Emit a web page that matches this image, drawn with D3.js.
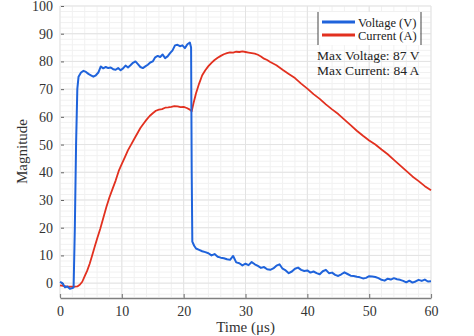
<!DOCTYPE html>
<html><head><meta charset="utf-8">
<script src="https://cdn.jsdelivr.net/npm/d3@7"></script>
<style>body{margin:0;background:#fff}svg{display:block}svg text{font-family:"Liberation Serif","Times New Roman",serif !important}</style>
</head><body><svg id="c" width="474" height="336"></svg>
<script>
const voltageT = [0,0.4,0.8,1.2,1.6,2.0,2.2,2.4,2.6,2.8,3.0,3.4,3.8,4.2,4.6,5.0,5.4,5.8,6.2,6.6,7.0,7.4,7.8,8.2,8.6,9.0,9.4,9.8,10.2,10.6,11.0,11.4,11.8,12.2,12.6,13.0,13.4,13.8,14.2,14.6,15.0,15.4,15.8,16.2,16.6,17.0,17.4,17.8,18.2,18.6,19.0,19.4,19.8,20.2,20.6,21.0,21.2,21.3,21.4,21.7,22.0,22.5,23.0,23.5,24.0,24.5,25.0,25.5,26.0,26.5,27.0,27.5,28,28.5,29,29.5,30,30.5,31,31.5,32,32.5,33,33.5,34,34.5,35,35.5,36,36.5,37,37.5,38,38.5,39,39.5,40,40.5,41,41.5,42,42.5,43,43.5,44,44.5,45,45.5,46,46.5,47,47.5,48,48.5,49,49.5,50,50.5,51,51.5,52,52.5,53,53.5,54,54.5,55,55.5,56,56.5,57,57.5,58,58.5,59,59.5,60];
const voltageV = [0.5,0,-1.5,-1.2,-2,-1.8,-1.5,20,50,70,74.5,76,76.6,76.2,75.5,75,74.5,75,76,78.2,77.5,78,77.6,77.8,77.2,77,77.6,76.8,77.5,78.5,77.8,78.6,79.5,80,79,78,77.6,78.2,78.8,79.6,80,81.5,82,81.6,82.5,81.2,81.8,83,84,85.8,86,85.5,85.8,84.8,86.2,86.8,85,40,15,13.5,12.5,12,11.5,11.2,10.8,10,10.5,9.5,9.2,9,8.6,8.4,9.8,7.5,7.2,6.4,7,6.5,7.6,6.8,6.2,5.5,5.8,5,4.8,5.3,6.3,6.8,5.2,4.6,3.6,4.2,5.2,5.6,4.8,4.4,4.6,3.8,4.2,3.6,3.2,4.3,4.8,3.6,3.8,3,2.6,3.2,3.9,3.3,2.7,2.6,2.3,2.1,1.7,1.9,2.5,2.4,2.2,1.8,1.2,0.9,1.6,1.3,1.8,1.4,1.2,0.8,0.3,0.9,0.2,0.6,1.2,0.8,1.3,0.6,0.7];
const currentT = [0,1,2,2.8,3.2,3.6,4.0,4.4,4.8,5.2,5.6,6.0,6.5,7.0,7.5,8,8.5,9,9.5,10,10.5,11,11.5,12,12.5,13,13.5,14,14.5,15,15.5,16,16.5,17,17.5,18,18.5,19,19.5,20,20.5,21,21.3,21.6,22,22.5,23,23.5,24,24.5,25,25.5,26,26.5,27,27.5,28,28.5,29,29.5,30,30.5,31,31.5,32,32.5,33,33.5,34,35,36,37,38,39,40,41,42,43,44,45,46,47,48,49,50,51,52,53,54,55,56,57,58,59,60];
const currentV = [-0.8,-1.2,-1.3,-1.2,-0.6,0.5,2.5,4.5,7,10,13,16,19.5,23.5,27.5,31,34,37,40.5,43,45.5,48,50,52,54,56,57.5,59,60.3,61.3,62.2,62.6,62.8,63.3,63.4,63.6,63.9,63.8,63.5,63.6,63.2,62.6,62,65,68.5,72,75,76.8,78.3,79.5,80.5,81.3,82,82.6,83,83.3,83.2,83.5,83.4,83.6,83.4,83.2,83,82.8,82.4,81.8,81,80.5,79.8,78.6,77,75.5,74,72,70.2,68.2,66.5,64.5,62.7,61,59,57,55,53.2,51.5,50,48.2,46.5,44.5,42.5,40.5,38.5,36.8,35,33.5];
const xTicks = [0,10,20,30,40,50,60];
const yTicks = [0,10,20,30,40,50,60,70,80,90,100];
const seriesNames = ["Voltage (V)","Current (A)"];
const notes = ["Max Voltage: 87 V","Max Current: 84 A"];

const svg = d3.select("#c");
const L=60,R=431,T=6,B=297;
const x = d3.scaleLinear().domain([0,60]).range([L,R]);
const y = d3.scaleLinear().domain([-5,100]).range([B,T]);
const SERIF = '"Liberation Serif","Times New Roman",serif';

const g = svg.append("g");
g.selectAll(".mx").data(d3.range(0,61,2)).enter().append("line")
 .attr("x1",d=>x(d)).attr("x2",d=>x(d)).attr("y1",T).attr("y2",B).attr("stroke","#f1f1f1");
g.selectAll(".my").data(d3.range(-4,101,2)).enter().append("line")
 .attr("y1",d=>y(d)).attr("y2",d=>y(d)).attr("x1",L).attr("x2",R).attr("stroke","#f1f1f1");
g.selectAll(".gx").data(xTicks).enter().append("line")
 .attr("x1",d=>x(d)).attr("x2",d=>x(d)).attr("y1",T).attr("y2",B).attr("stroke","#e3e3e3");
g.selectAll(".gy").data(yTicks).enter().append("line")
 .attr("y1",d=>y(d)).attr("y2",d=>y(d)).attr("x1",L).attr("x2",R).attr("stroke","#e3e3e3");

const xa = svg.append("g").attr("transform",`translate(0,${B+1})`)
 .call(d3.axisBottom(x).tickValues(xTicks).tickSize(-4).tickPadding(8).tickSizeOuter(0));
xa.attr("font-family",SERIF);
xa.select(".domain").attr("stroke","#808080").attr("stroke-width",1.5);
xa.selectAll(".tick line").attr("stroke","#808080").attr("stroke-width",1.2);
xa.selectAll("text").attr("font-size",14).attr("fill","#333").style("font-family",SERIF);

const ya = svg.append("g").attr("transform",`translate(${L},0)`)
 .call(d3.axisLeft(y).tickValues(yTicks).tickSize(-3).tickPadding(7));
ya.attr("font-family",SERIF);
ya.select(".domain").remove();
ya.selectAll(".tick line").attr("stroke","#666").attr("transform","translate(1,0)");
ya.selectAll("text").attr("font-size",14).attr("fill","#333").style("font-family",SERIF);

const line = d3.line().x(d=>x(d[0])).y(d=>y(d[1]));
const vData = voltageT.map((t,i)=>[t,voltageV[i]]);
const cData = currentT.map((t,i)=>[t,currentV[i]]);
const colors = ["#1f63db","#e2301f"];
svg.append("path").datum(cData).attr("d",line).attr("fill","none").attr("stroke",colors[1]).attr("stroke-width",1.8).attr("stroke-linejoin","round");
svg.append("path").datum(vData).attr("d",line).attr("fill","none").attr("stroke",colors[0]).attr("stroke-width",2).attr("stroke-linejoin","round");

const lg = svg.append("g");
lg.append("rect").attr("x",318).attr("y",12).attr("width",102).attr("height",33).attr("fill","#fff");
[318,421].forEach(xx=>lg.append("line").attr("x1",xx).attr("x2",xx).attr("y1",12).attr("y2",45).attr("stroke","#444").attr("stroke-width",1));
seriesNames.forEach((n,i)=>{
  const yy = 22+i*13;
  lg.append("line").attr("x1",322).attr("x2",355).attr("y1",yy).attr("y2",yy).attr("stroke",colors[i]).attr("stroke-width",3);
  lg.append("text").attr("x",358).attr("y",yy+4.5).attr("font-size",12.5).attr("fill","#222").style("font-family",SERIF).text(n);
});
notes.forEach((n,i)=>{
  svg.append("text").attr("x",317).attr("y",60+i*15).attr("font-size",13.5).attr("fill","#222").style("font-family",SERIF).text(n);
});

svg.append("text").attr("x",x(30)).attr("y",332).attr("text-anchor","middle").attr("font-size",15).attr("fill","#333").style("font-family",SERIF).text("Time (μs)");
svg.append("text").attr("transform",`translate(27,${(T+B)/2}) rotate(-90)`).attr("text-anchor","middle").attr("font-size",15).attr("fill","#333").style("font-family",SERIF).text("Magnitude");
</script></body></html>
